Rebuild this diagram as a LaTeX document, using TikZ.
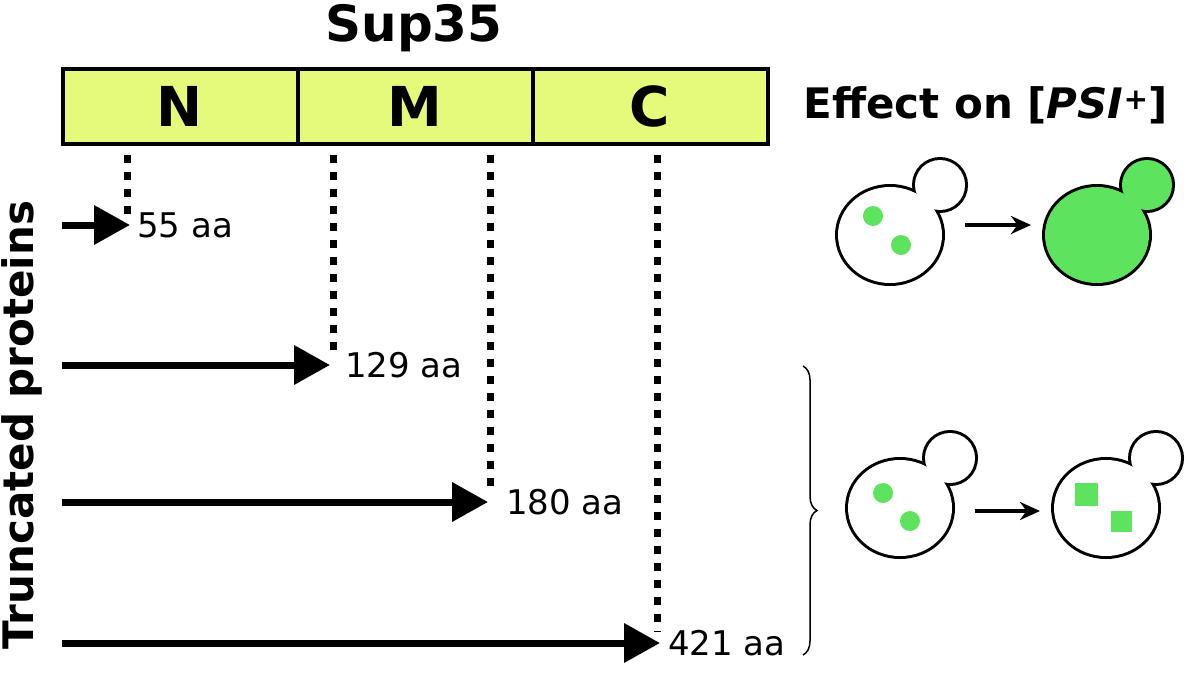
\documentclass[tikz,border=0pt]{standalone}
\usepackage{fontspec}
\setmainfont{DejaVu Sans}
\usetikzlibrary{arrows.meta,decorations.pathreplacing}
\definecolor{barfill}{HTML}{E5FA7A}
\definecolor{gfp}{HTML}{5EE35E}
\tikzset{
  dom/.style={draw,line width=4pt,fill=barfill,minimum height=75pt,minimum width=235pt,inner sep=0pt,font=\fontsize{55}{60}\selectfont\bfseries},
  dots/.style={line width=7pt,dash pattern=on 8pt off 9pt},
  trunc/.style={line width=7pt,-{Triangle[length=36pt,width=38pt]}},
  lab/.style={anchor=west,font=\fontsize{34}{36}\selectfont,inner sep=0pt},
  small/.style={line width=3.5pt,-{Stealth[length=20pt,width=18pt]}},
}
\newcommand{\yeast}[3]{% x,y,fill
  \begin{scope}[shift={(#1,#2)}]
    \draw[line width=6pt] (0,0) ellipse [x radius=52, y radius=48];
    \draw[line width=6pt] (50,-50) circle [radius=25];
    \fill[#3] (0,0) ellipse [x radius=52, y radius=48];
    \fill[#3] (50,-50) circle [radius=25];
  \end{scope}}
\begin{document}
\begin{tikzpicture}[x=1pt,y=-1pt]
\useasboundingbox (0,0) rectangle (1198,680);
\fill[white] (0,0) rectangle (1198,680);
\node[font=\fontsize{50}{55}\selectfont\bfseries] (sup) at (414,28) {Sup35};
\node[dom] (N) at (180,106) {N};
\node[dom] (M) at (415,106) {M};
\node[dom] (C) at (650,106) {C};
\node[font=\fontsize{42}{46}\selectfont\bfseries,anchor=west] (eff) at (800,105) {Effect on [\textit{PSI}\textsuperscript{+}]};
\node[rotate=90,font=\fontsize{42}{46}\selectfont\bfseries] (tp) at (22,425) {Truncated proteins};
% truncations
\coordinate (s1) at (62,225); \coordinate (e1) at (130,225);
\coordinate (s2) at (62,365); \coordinate (e2) at (330,365);
\coordinate (s3) at (62,502); \coordinate (e3) at (488,502);
\coordinate (s4) at (62,643); \coordinate (e4) at (660,643);
\draw[dots] (127,155) -- (127,218);
\draw[dots] (333,155) -- (333,350);
\draw[dots] (490,155) -- (490,488);
\draw[dots] (657,155) -- (657,632);
\draw[trunc] (s1) -- (e1);
\draw[trunc] (s2) -- (e2);
\draw[trunc] (s3) -- (e3);
\draw[trunc] (s4) -- (e4);
\node[lab] (l1) at (137,225) {55 aa};
\node[lab] (l2) at (345,365) {129 aa};
\node[lab] (l3) at (506,502) {180 aa};
\node[lab] (l4) at (668,643) {421 aa};
\draw[line width=1.5pt,decoration={brace,amplitude=14pt},decorate] (803,366) -- (803,655);
% cells
\yeast{890}{235}{white}
\fill[gfp] (873,216) circle [radius=10];
\fill[gfp] (901,245) circle [radius=10];
\yeast{1097}{235}{gfp}
\coordinate (a1) at (965,225); \coordinate (b1) at (1031,225);
\draw[small] (a1) -- (b1);
\yeast{900}{508}{white}
\fill[gfp] (883,493) circle [radius=10];
\fill[gfp] (910,521) circle [radius=10];
\yeast{1106}{508}{white}
\fill[gfp] (1075,483) rectangle (1098,506);
\fill[gfp] (1111,511) rectangle (1132,532);
\coordinate (a2) at (975,511); \coordinate (b2) at (1040,511);
\draw[small] (a2) -- (b2);
\end{tikzpicture}
\end{document}
